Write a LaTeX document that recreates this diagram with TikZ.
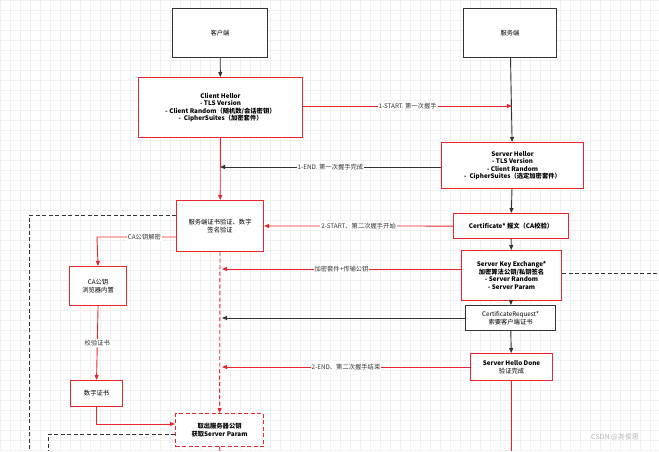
\documentclass[tikz,border=0pt]{standalone}
\usepackage{fontspec}
\setmainfont{Noto Sans CJK SC}
\usetikzlibrary{arrows.meta}
\definecolor{rd}{HTML}{E8262B}
\definecolor{dk}{HTML}{333333}
\begin{document}
\begin{tikzpicture}[x=1pt,y=-1pt,font=\fontsize{6.3}{7.6}\selectfont,
 box/.style={draw=#1,line width=1.1pt,fill=white,align=center,inner sep=0pt,anchor=north west},
 rb/.style={box=rd}, kb/.style={box=dk},
 dsh/.style={dash pattern=on 4pt off 2.5pt},
 ra/.style={draw=rd,line width=0.9pt,-{Triangle[length=5pt,width=4pt]}},
 ka/.style={draw=dk,line width=0.9pt,-{Triangle[length=5pt,width=4pt]}},
 lbl/.style={fill=white,inner sep=1pt,text=dk}]
\useasboundingbox (0,0) rectangle (659,451);
\fill[white] (0,0) rectangle (659,451);
\draw[gray!12,line width=0.3pt] (0,0) grid[step=10pt] (659,451);
% nodes
\node[kb,minimum width=95pt,minimum height=49pt] (cli) at (172,8) {客户端};
\node[kb,minimum width=93pt,minimum height=49pt] (srv) at (463,8) {服务端};
\node[rb,minimum width=164pt,minimum height=60pt,font=\fontsize{6.3}{7.6}\selectfont\bfseries] (ch) at (138,77) {Client Hellor\\- TLS Version\\- Client Random（随机数/会话密钥）\\-\ \ CipherSuites（加密套件）};
\node[rb,minimum width=142pt,minimum height=46pt,font=\fontsize{6.3}{7.6}\selectfont\bfseries] (sh) at (441,142) {Server Hellor\\- TLS Version\\- Client Random\\-\ \ CipherSuites（选定加密套件）};
\node[rb,minimum width=87pt,minimum height=51pt] (sv) at (176,200) {服务端证书验证、数字\\签名验证};
\node[rb,minimum width=115pt,minimum height=25pt,font=\fontsize{6.3}{7.6}\selectfont\bfseries] (cert) at (453,213) {Certificate* 报文（CA校验）};
\node[rb,minimum width=100pt,minimum height=50pt,font=\fontsize{6.3}{7.6}\selectfont\bfseries] (ske) at (461,250) {Server Key Exchange*\\加密算法公钥/私钥签名\\- Server Random\\- Server Param};
\node[kb,minimum width=90pt,minimum height=25pt] (creq) at (465,305) {CertificateRequest*\\索要客户端证书};
\node[rb,minimum width=82pt,minimum height=27pt,font=\fontsize{6.3}{7.6}\selectfont\bfseries] (shd) at (470,353) {Server Hello Done\\\mdseries 验证完成};
\node[rb,minimum width=57pt,minimum height=39pt] (ca) at (69,266) {CA公钥\\浏览器内置};
\node[rb,minimum width=52pt,minimum height=26pt] (dc) at (70,380) {数字证书};
\node[box=rd,dsh,minimum width=88pt,minimum height=33pt,font=\fontsize{6.3}{7.6}\selectfont\bfseries] (get) at (175,413) {取出服务器公钥\\获取Server Param};
\coordinate (b1) at (220,451);
% dashed black
\draw[dk,dsh,line width=1pt] (sv.west|-0,215) -| (29,451);
\draw[dk,dsh,line width=1pt] (get.west|-0,434) -| (48,451);
\draw[dk,dsh,line width=1pt] (ske.east|-0,273) -- (659,273);
% client column
\draw[ka] (cli) -- (ch);
\draw[ra] (ch) -- (sv);
\draw[ra,dsh] (sv) -- (get);
\draw[rd,dsh,line width=0.9pt] (get.south) -- (b1);
% server column
\draw[ka] (srv) -- (sh);
\draw[ka] (sh) -- (cert);
\draw[ka] (cert) -- (ske);
\draw[ka] (ske) -- (creq);
\draw[ka] (creq) -- (shd);
\draw[rd,line width=0.9pt] (shd.south) -- (shd.south|-0,451);
% horizontal messages
\draw[ra] (ch.east|-0,106) -- node[lbl]{1-START. 第一次握手} (512,106);
\draw[ka] (sh.west|-0,167) -- node[lbl]{1-END. 第一次握手完成} (220,167);
\draw[ra] (cert.west) -- node[lbl]{2-START、第二次握手开始} (sv.east|-0,226);
\draw[ra] (ske.west|-0,269) -- node[lbl]{加密套件+传输公钥} (222,269);
\draw[ka] (creq.west|-0,318) -- (222,318);
\draw[ra] (shd.west|-0,367) -- node[lbl]{2-END、第二次握手结束} (222,367);
% CA branch
\draw[ra] (sv.west|-0,237) -- node[lbl,pos=0.4]{CA公钥解密} (97,237) -- (ca.north);
\draw[ra] (ca.south) -- node[lbl]{校验证书} (dc.north);
\draw[ra] (dc.south) |- (get.west|-0,424);
\node[text=gray!60,font=\fontsize{7}{8}\selectfont] (wm) at (615,437) {CSDN @尧俊思};
\end{tikzpicture}
\end{document}
